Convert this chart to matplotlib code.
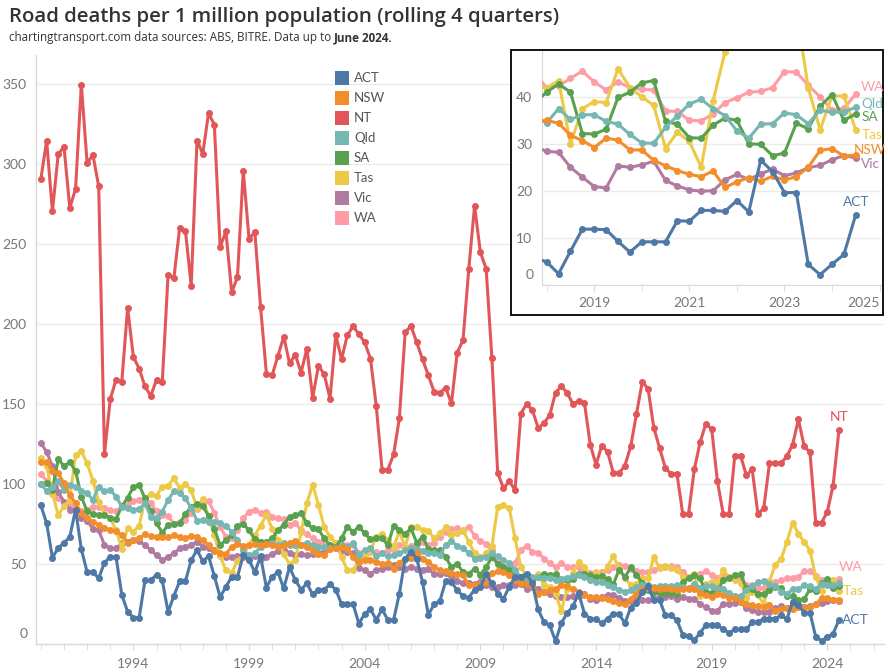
import numpy as np
import matplotlib
matplotlib.use("Agg")
import matplotlib.pyplot as plt
from matplotlib.patches import Rectangle

plt.rcParams['font.family'] = ['Lato', 'DejaVu Sans']

# ---------------- data (quarterly, Dec 1989 .. Jun 2024) ----------------
states = ['ACT', 'NSW', 'NT', 'Qld', 'SA', 'Tas', 'Vic', 'WA']
colors = {'ACT': '#4e79a7', 'NSW': '#f28e2b', 'NT': '#e15759', 'Qld': '#76b7b2',
          'SA': '#59a14f', 'Tas': '#edc948', 'Vic': '#b07aa1', 'WA': '#ff9da7'}
first_year = 1990.0

act = [86.7, 75.4, 53.9, 60, 63.3, 66.8, 84, 59.2, 45, 44.8, 41.2, 50.8, 54.5, 54.3, 30.7, 20.2, 16.5, 16.5, 39.7, 39.7, 43.4, 39.7, 20,
       30, 39.2, 39.2, 52.4, 58.7, 51.7, 54.9, 42.4, 29.4, 35.7, 42, 42, 55.5, 52.5, 44.8, 54.7, 35.3, 42, 44.8, 34.8, 48, 40, 34, 37.8, 31, 34,
       34, 37.3, 34, 24.8, 24.8, 24.8, 12.7, 18.9, 21.6, 15.1, 21.6, 15.1, 15.1, 31.5, 53.4, 57.6, 53.4, 38.8, 18.2, 24.8, 26.9, 39.2, 38.8, 33.5,
       30, 29, 34, 35.7, 43.6, 37.8, 31.5, 28.3, 35.7, 42, 42, 44, 37.8, 21.6, 13.7, 11.6, 1.8, 13, 19.3, 23.5, 31.9, 18.9, 15.8, 15.4,
       13, 15.8, 18.9, 18.5, 13, 22.7, 25.6, 32.5, 36, 27.3, 27.3, 17.9, 17.9, 14.7, 5.7,
       4.8, 2.3, 7.1, 11.8, 11.8, 11.7, 9.2, 6.9, 9.1, 9.1, 9.1, 13.6, 13.5, 15.8, 15.8, 15.6, 17.9, 15.5, 26.5, 24.1, 19.6, 19.6, 4.3, 2.1, 4.3, 6.4, 14.9]

nsw = [113.7, 113.7, 107.8, 106.8, 100.5, 93.2, 88, 81.7, 78.6, 76.5, 74.4, 72.7, 71.2, 70.6, 68.1, 63.3, 65, 66, 68.5, 67.5, 67, 66.6, 66.6, 68.1, 67,
       66, 67.5, 66.6, 65, 61.8, 58.3, 57, 56.2, 60.8, 62.4, 61.2, 61.8, 62.2, 61.8, 62.4, 61.8, 60.8, 61.8, 62.9, 64.3, 61.8, 60.4, 58.3, 56.2,
       55.5, 59.1, 59.7, 60.4, 59.1, 54.5, 51.3, 52.4, 52.4, 51.3, 50.2, 50.6, 47.1, 50.6, 53.4, 53.9, 56.6, 53.4, 51.3, 48.2, 46.1, 45.7, 44.1, 43.6,
       43, 36.7, 36.7, 37.4, 38.8, 44.1, 45.5, 45.1, 43, 39.9, 38.2, 37.4, 36.7, 31.5, 32.5, 33.6, 34.6, 36.7, 36.1, 34.6, 32.5, 30.4, 29.4, 29.4,
       29, 28.3, 26.9, 25.6, 24.8, 28.3, 31.5, 34.6, 35.3, 35.3, 34.6, 35, 34.6, 34, 34.6,
       35, 34.4, 31.8, 30.7, 29.2, 31.2, 30.8, 28.7, 28.7, 26.5, 25.3, 24.3, 23.5, 23, 24.2, 20.7, 21.9, 22.8, 22, 23.1, 22.3, 23, 25, 28.6, 29, 27.4, 27.6]

nt = [290.5, 314.5, 270.3, 306.1, 310.7, 272.6, 284.1, 349.5, 300.3, 305.6, 286.1, 118.7, 153, 165, 164, 210, 179.4, 172, 161, 155,
      165, 164, 230.6, 228.5, 259.9, 258.3, 223.7, 314.5, 306.3, 331.7, 324.4, 248, 257.8, 219.8, 229.2, 295.7, 253.2, 257.4, 210.3, 169,
      168, 180, 192.1, 175.4, 180.6, 169.6, 184.6, 153.9, 173.8, 168.5, 153.3, 193, 177.9, 193, 198.4, 193.6, 188.4, 178.3, 148.6, 108.9,
      108.9, 118.4, 141.3, 194.7, 198.8, 188.4, 177.9, 167.9, 157.6, 157, 160.1, 150.3, 182.1, 189.8, 234.4, 273.7, 244.8, 234.4, 178.5, 106.8,
      97.4, 101.6, 96.3, 144, 150, 146, 135, 138, 143, 157, 161, 157, 150, 151.8, 150.7, 124.6, 112, 124, 120, 106.8,
      106.8, 111.5, 123.5, 143.8, 163.7, 159.5, 135, 122.4, 109.8, 106.3, 106.3, 81.2, 81.2, 109.2, 126, 137.7, 134.3, 101.6, 81.2, 81.2,
      117.7, 117.7, 105.3, 109.2, 81.2, 84.8, 113, 113, 113, 117.2, 124.6, 140.3, 123.5, 119.7, 75.8, 75.8, 82.7, 99, 133.4]

qld = [99.9, 95.7, 98.4, 101.6, 96.3, 99.5, 98.4, 95.9, 94.2, 90, 98.4, 95.3, 96.3, 92.1, 85.9, 85.2, 83.8, 84.4, 88, 79.6, 78.6, 82.7, 90, 95.3, 94.2,
       91.1, 84.8, 77.1, 77.5, 76.5, 76.5, 75.4, 73.7, 70.2, 64.9, 58.7, 55.5, 56.6, 60.8, 62.4, 62.9, 61.8, 62.9, 61.8, 61.8, 61.8, 62.9, 61.8, 60.8,
       60.8, 59.7, 59.7, 61.8, 60.4, 62.9, 55.5, 58.7, 59.7, 54.9, 56.6, 54.9, 55.5, 56.6, 58.7, 59.7, 59.1, 58.3, 57, 56.6, 55.5, 61.8, 64.5, 61.2,
       59.7, 57, 53.4, 54, 54.5, 56.6, 54.9, 52.4, 50.3, 46.1, 41.9, 40.9, 41.9, 41.9, 41.5, 41.5, 39.9, 40.9, 41.5, 42.4, 43, 41.9, 39.9, 38.8,
       38.8, 36.7, 35.7, 34, 32.5, 34, 35.7, 36.7, 36.7, 35.7, 36.1, 36.1, 36.1, 36.7, 35.7,
       34.5, 37.5, 35.2, 36.2, 36.2, 34.8, 34.2, 32, 30.2, 30.1, 33.5, 36, 38.5, 39.5, 37.5, 36, 32.8, 31.2, 34.2, 34.3, 36.6, 36.2, 34.3, 37.2, 36.7, 36.8, 37.8]

sa = [100, 100.5, 96.3, 115.4, 111.2, 113.5, 108.2, 92, 83, 81.5, 80.8, 80.6, 79, 78, 86, 91.4, 98, 99.5, 91, 83, 75.5, 69.5, 74.3, 75, 75.5,
      81.2, 85.8, 87.3, 86, 80, 72, 61.7, 65, 68, 73.5, 75, 71, 65.6, 64, 63.6, 66, 71, 74.5,
      79.6, 80.6, 81.7, 75.4, 72.3, 71.7, 66, 61.8, 60.7, 66, 73.3, 70.1, 73.3, 69.1, 65.3, 66.5, 66, 61.8, 73.7, 71.2, 68.7, 72.3, 63.2, 66.9,
      59.6, 58.5, 58.5, 54.3, 48, 50.1, 44.9, 43.8, 47, 43.4, 48, 54.3, 50.1,
      48.2, 46.5, 44, 40.9, 38.8, 39.9, 42, 43.6, 43, 43.6, 39.9, 39.9, 40.9, 44, 44, 43, 41.9,
      42.4, 40.3, 37.4, 46.5, 41.9, 47.8, 43, 38.2, 34, 32.5, 31.9, 31.9, 31.9, 31.5, 38.8,
      41, 42.8, 41, 32.2, 32.1, 33.1, 39.9, 41, 43, 43.5, 34.8, 34.2, 31.3, 31.2, 34, 35.5, 35, 30, 29.9, 27.5, 28, 34.4, 33.2, 38, 40.5, 35, 36.4]

tas = [116, 111, 94, 80.6, 86, 90, 118.3, 120.4, 113, 102, 89, 81, 78.5, 71, 59.5, 72.5, 70, 74, 90, 94, 92.6, 98.4, 99, 103.5, 97.5,
       100, 96, 85, 90.5, 80, 68, 55, 46, 44.5, 52, 56, 62, 68, 74, 80.6, 72, 65, 56, 50, 52.4, 70, 88, 99.5, 87,
       73, 67, 63, 54.5, 46, 46, 52.4, 54.5, 58, 67, 69, 65, 60.7, 70.2, 60.7, 73.3, 73.3, 71.2, 70.8, 66, 69.1, 72.9, 68, 69.1, 71.2,
       63.9, 56.6, 54.5, 56.6, 61.2, 85.9, 86.9, 84.8, 66, 48.2,
       42, 41, 43.6, 36.7, 35.7, 31.5, 20.5, 34.6, 44.5, 51.4, 48.2, 42.4, 45.1,
       42, 48.6, 54.9, 47.2, 41, 37, 37.5, 41, 41, 54.5, 47.2, 48.6, 47.2, 46.5, 42,
       42, 43.5, 30, 37.5, 39, 38.8, 46, 42, 40, 38.2, 29, 32.5, 30.5, 25, 39.2, 49.6, 53, 63.6, 75.8, 68.9, 63.7, 58.4, 42, 33, 40.2, 40.2, 33]

vic = [125.6, 120, 111, 95, 89, 84, 83, 79, 77, 72, 71, 62, 59.7, 59.7, 62.9, 63.9, 65, 64.3, 61.8, 58.7, 55.5, 52.4, 54.5, 56.6, 59.7,
       60.8, 61.8, 63.9, 60.8, 59.7, 58.7, 55.5, 54.5, 54.5, 54.9, 54.5, 54.5, 54.9, 53.4, 54.5, 56.2, 58.3, 58.7, 57, 55.5, 56.2, 55.5, 56.2, 57,
       57.6, 59.7, 59.7, 58.7, 57.6, 56.6,
       47.7, 46, 43.9, 46, 47.1, 48.2, 49.3, 48.2, 47.1, 48.2, 47.1, 46.5, 47.1, 43.5, 43.9, 44.4, 42.3, 39.4, 37.8, 38.2,
       37.4, 38.9, 36.8, 35.7, 35.7, 36.8, 36.8, 36.8, 37.4, 34.6, 35.7, 34.6, 32.5, 31.5, 29.8, 29.4, 29.4, 29.8, 29.8, 31.5,
       28.3, 27.3, 29.4, 30.4, 30.4, 29, 27, 26.9, 28.3, 27.3, 27.3, 28.3, 29.4, 29.4, 29.8, 28.3, 29.4,
       28.4, 28.2, 25, 22.9, 20.9, 20.6, 25.3, 25, 25.5, 26.3, 22.2, 21, 20.2, 19.9, 20, 22.3, 23.5, 22.4, 23.6, 24.6, 23.2, 23.8, 24.9, 25.4, 26.6, 27.5, 27]

wa = [106, 102, 96, 91, 88, 87, 85, 83, 84, 85.5, 85.5, 84.8, 83.8, 83, 86, 87, 89.5, 90, 91, 88, 83, 80.6, 80, 75, 76.5,
      77.5, 82, 84.2, 89, 89.6, 81.7, 73.3, 67, 66, 71.2, 78.6, 82.7, 83.8, 81.7, 82.7, 79.6, 78.6, 77.9, 74.4, 75.4,
      71.2, 68.5, 66, 64, 62.9, 59.7, 62.9, 61.8, 61.8, 61.8, 56.6, 54.5, 57.6, 57.6, 56.6, 58.7, 59.1, 61.8, 59.7, 61.2, 62.4, 63.9, 61.8, 63.2, 67, 70.2,
      71.9, 72.3, 70.8, 73.3, 67.5, 64.5, 62.4, 58.7, 50.3, 48.2, 48.6, 50.3, 58.7, 61.2, 57.6, 57, 53.4, 50.3, 48.2, 50.3, 48.2, 47.8, 48.2, 46.1, 44.5, 44.1,
      45, 46.5, 47.8, 49.2, 48.6, 47, 45.5, 45, 45, 46.1, 47.8, 48.2, 48.6, 47.8, 45,
      42, 42.3, 44, 45.5, 43.2, 41.5, 43.2, 42, 41.6, 41.5, 37, 36.9, 35, 34.9, 36.4, 38.8, 39.8, 41, 41.2, 42, 45.4, 45.3, 42.5, 40, 37.2, 37.6, 40.6]

series = {'ACT': act, 'NSW': nsw, 'NT': nt, 'Qld': qld, 'SA': sa, 'Tas': tas, 'Vic': vic, 'WA': wa}

main_ticks = [1994, 1999, 2004, 2009, 2014, 2019, 2024]
inset_ticks = [2019, 2021, 2023, 2025]
main_yticks = [0, 50, 100, 150, 200, 250, 300, 350]
inset_yticks = [0, 10, 20, 30, 40]

# ---------------- figure ----------------
W, H = 888, 672
fig = plt.figure(figsize=(W / 100, H / 100), dpi=100)


def fx(px):
    return px / W


def fy(py):
    return 1 - py / H


GRID = '#ebebeb'
AXC = '#d9d9d9'
TICKC = '#777777'

ax = fig.add_axes([fx(36), fy(644), fx(884) - fx(36), fy(55) - fy(644)])
ax.set_xlim(1989.79, 2026.45)
ax.set_ylim(0, 368)

draw_order = ['WA', 'Vic', 'Tas', 'SA', 'Qld', 'NT', 'NSW', 'ACT']
for s in draw_order:
    v = np.array(series[s], dtype=float)
    x = first_year + np.arange(len(v)) / 4
    ax.plot(x, v, color=colors[s], lw=2.2, marker='o', ms=4.0, mec=colors[s],
            solid_joinstyle='round', clip_on=False, zorder=3)

for sp in ['top', 'right']:
    ax.spines[sp].set_visible(False)
for sp in ['left', 'bottom']:
    ax.spines[sp].set_color(AXC)
    ax.spines[sp].set_linewidth(1)
ax.set_yticks(main_yticks)
ax.set_yticklabels([''] + [str(t) for t in main_yticks[1:]])
ax.grid(axis='y', color=GRID, lw=1)
ax.set_axisbelow(True)
ax.tick_params(axis='y', length=0, pad=7, labelsize=10, labelcolor=TICKC)
ax.set_xticks(main_ticks)
ax.set_xticklabels([str(t) for t in main_ticks])
ax.set_xticks(range(1990, 2027), minor=True)
ax.tick_params(axis='x', which='both', length=4, color=AXC, labelsize=10,
               labelcolor=TICKC, pad=6)
ax.annotate('0', xy=(0, 0), xycoords=('axes fraction', 'data'), xytext=(-6, 7),
            textcoords='offset points', ha='right', va='center', fontsize=10,
            color=TICKC, annotation_clip=False)

# end labels (main)
lx = first_year + (len(nt) - 1) / 4
ax.annotate('NT', xy=(lx, nt[-1]), xytext=(0, 10), textcoords='offset points',
            ha='center', va='center', color=colors['NT'], fontsize=10)
ax.annotate('WA', xy=(lx, wa[-1]), xytext=(0, 9), textcoords='offset points',
            ha='left', va='center', color=colors['WA'], fontsize=10)
ax.annotate('Tas', xy=(lx, tas[-1]), xytext=(3, 0), textcoords='offset points',
            ha='left', va='center', color=colors['Tas'], fontsize=10)
ax.annotate('ACT', xy=(lx, act[-1]), xytext=(2.5, 0), textcoords='offset points',
            ha='left', va='center', color=colors['ACT'], fontsize=10)

# legend
for i, s in enumerate(states):
    yc = 78.3 + 20 * i
    fig.add_artist(Rectangle((fx(335), fy(yc + 7)), 14 / W, 14 / H,
                             transform=fig.transFigure, color=colors[s], lw=0))
    fig.text(fx(354), fy(yc), s, ha='left', va='center', fontsize=9.5, color='#555555')

# ---------------- inset ----------------
fig.add_artist(Rectangle((fx(511), fy(315)), fx(883) - fx(511), fy(50) - fy(315),
                         transform=fig.transFigure, facecolor='white',
                         edgecolor='black', lw=1.3, zorder=2))
axi = fig.add_axes([fx(541.7), fy(284.5), fx(880.5) - fx(541.7), fy(51) - fy(284.5)], zorder=3)
axi.patch.set_alpha(0)
axi.set_xlim(2017.895, 2025.02)
axi.set_ylim(0, 49.8)
for s in draw_order:
    if s == 'NT':
        continue
    v = np.array(series[s], dtype=float)
    x = first_year + np.arange(len(v)) / 4
    axi.plot(x, v, color=colors[s], lw=2.2, marker='o', ms=4.0, mec=colors[s],
             solid_joinstyle='round', zorder=3)
for sp in ['top', 'right']:
    axi.spines[sp].set_visible(False)
for sp in ['left', 'bottom']:
    axi.spines[sp].set_color(AXC)
axi.set_yticks(inset_yticks)
axi.set_yticklabels([''] + [str(t) for t in inset_yticks[1:]])
axi.grid(axis='y', color=GRID, lw=1)
axi.set_axisbelow(True)
axi.tick_params(axis='y', length=0, pad=7, labelsize=10, labelcolor=TICKC)
axi.set_xticks(inset_ticks)
axi.set_xticklabels([str(t) for t in inset_ticks])
axi.set_xticks(range(2018, 2026), minor=True)
axi.tick_params(axis='x', which='both', length=4, color=AXC, labelsize=10,
                labelcolor=TICKC, pad=5)
axi.get_xticklabels()[-1].set_horizontalalignment('right')
axi.annotate('0', xy=(0, 0), xycoords=('axes fraction', 'data'), xytext=(-6, 7),
             textcoords='offset points', ha='right', va='center', fontsize=10,
             color=TICKC, annotation_clip=False)

ilabels = [('WA', wa, 3.5, 5.0, 'left'), ('Qld', qld, 4, 2.0, 'left'),
           ('SA', sa, 4, -2.4, 'left'), ('Tas', tas, 4, -3.6, 'left'),
           ('NSW', nsw, -1.5, 3.7, 'left'), ('Vic', vic, 4, -4.6, 'left'),
           ('ACT', act, 0, 9.3, 'center')]
for name, v, dx, dy, ha in ilabels:
    axi.annotate(name, xy=(lx, v[-1]), xytext=(dx, dy), textcoords='offset points',
                 ha=ha, va='center', color=colors[name], fontsize=9.8,
                 annotation_clip=False)

# ---------------- titles ----------------
fig.text(fx(9), fy(17), 'Road deaths per 1 million population (rolling 4 quarters)',
         ha='left', va='center', fontsize=14.7, color='#333333', fontweight='semibold',
         family=['Open Sans', 'DejaVu Sans'])
t1 = fig.text(fx(9), fy(38), 'chartingtransport.com data sources: ABS, BITRE. Data up to ',
              ha='left', va='center', fontsize=8.4, color='#333333',
              family=['Open Sans', 'DejaVu Sans'])
fig.canvas.draw()
bb = t1.get_window_extent()
fig.text(bb.x1 / W, fy(38), 'June 2024.', ha='left', va='center', fontsize=8.4,
         color='#333333', fontweight='bold', family=['Open Sans', 'DejaVu Sans'])

fig.savefig('out.png', dpi=100)
